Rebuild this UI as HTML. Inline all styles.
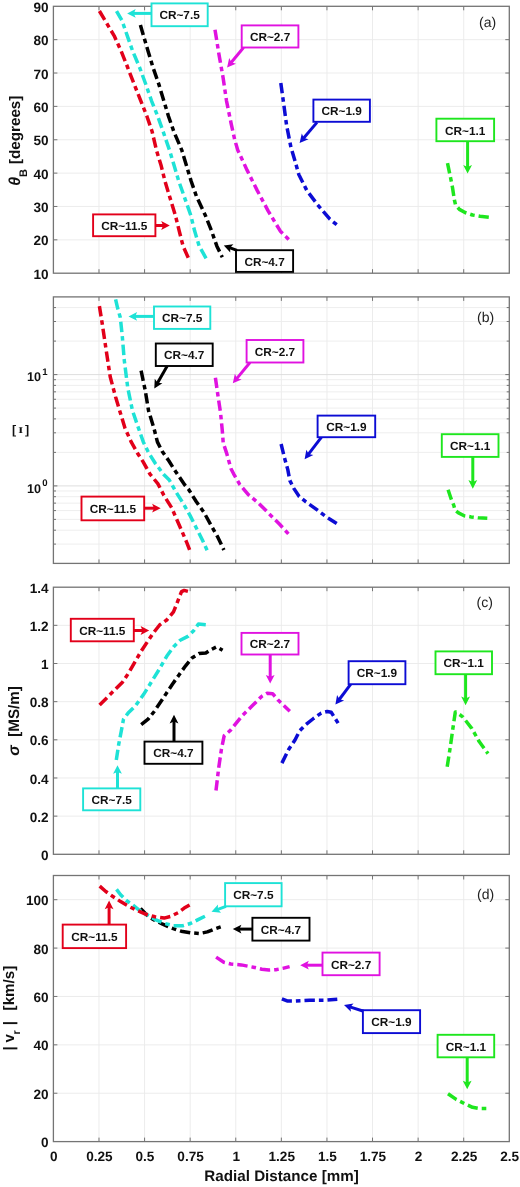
<!DOCTYPE html>
<html><head><meta charset="utf-8"><title>CR plots</title>
<style>html,body{margin:0;padding:0;background:#fff;}svg{display:block;}</style>
</head><body>
<svg width="520" height="1187" viewBox="0 0 520 1187" text-rendering="geometricPrecision"><line x1="98.99" y1="6.30" x2="98.99" y2="273.20" stroke="#eaeaea" stroke-width="0.9"/>
<line x1="144.58" y1="6.30" x2="144.58" y2="273.20" stroke="#eaeaea" stroke-width="0.9"/>
<line x1="190.17" y1="6.30" x2="190.17" y2="273.20" stroke="#eaeaea" stroke-width="0.9"/>
<line x1="235.76" y1="6.30" x2="235.76" y2="273.20" stroke="#eaeaea" stroke-width="0.9"/>
<line x1="281.35" y1="6.30" x2="281.35" y2="273.20" stroke="#eaeaea" stroke-width="0.9"/>
<line x1="326.94" y1="6.30" x2="326.94" y2="273.20" stroke="#eaeaea" stroke-width="0.9"/>
<line x1="372.53" y1="6.30" x2="372.53" y2="273.20" stroke="#eaeaea" stroke-width="0.9"/>
<line x1="418.12" y1="6.30" x2="418.12" y2="273.20" stroke="#eaeaea" stroke-width="0.9"/>
<line x1="463.71" y1="6.30" x2="463.71" y2="273.20" stroke="#eaeaea" stroke-width="0.9"/>
<line x1="53.40" y1="239.84" x2="509.30" y2="239.84" stroke="#eaeaea" stroke-width="0.9"/>
<line x1="53.40" y1="206.47" x2="509.30" y2="206.47" stroke="#eaeaea" stroke-width="0.9"/>
<line x1="53.40" y1="173.11" x2="509.30" y2="173.11" stroke="#eaeaea" stroke-width="0.9"/>
<line x1="53.40" y1="139.75" x2="509.30" y2="139.75" stroke="#eaeaea" stroke-width="0.9"/>
<line x1="53.40" y1="106.39" x2="509.30" y2="106.39" stroke="#eaeaea" stroke-width="0.9"/>
<line x1="53.40" y1="73.03" x2="509.30" y2="73.03" stroke="#eaeaea" stroke-width="0.9"/>
<line x1="53.40" y1="39.66" x2="509.30" y2="39.66" stroke="#eaeaea" stroke-width="0.9"/>
<line x1="98.99" y1="296.90" x2="98.99" y2="563.40" stroke="#eaeaea" stroke-width="0.9"/>
<line x1="144.58" y1="296.90" x2="144.58" y2="563.40" stroke="#eaeaea" stroke-width="0.9"/>
<line x1="190.17" y1="296.90" x2="190.17" y2="563.40" stroke="#eaeaea" stroke-width="0.9"/>
<line x1="235.76" y1="296.90" x2="235.76" y2="563.40" stroke="#eaeaea" stroke-width="0.9"/>
<line x1="281.35" y1="296.90" x2="281.35" y2="563.40" stroke="#eaeaea" stroke-width="0.9"/>
<line x1="326.94" y1="296.90" x2="326.94" y2="563.40" stroke="#eaeaea" stroke-width="0.9"/>
<line x1="372.53" y1="296.90" x2="372.53" y2="563.40" stroke="#eaeaea" stroke-width="0.9"/>
<line x1="418.12" y1="296.90" x2="418.12" y2="563.40" stroke="#eaeaea" stroke-width="0.9"/>
<line x1="463.71" y1="296.90" x2="463.71" y2="563.40" stroke="#eaeaea" stroke-width="0.9"/>
<line x1="53.40" y1="544.10" x2="509.30" y2="544.10" stroke="#ececec" stroke-width="0.9"/>
<line x1="53.40" y1="530.19" x2="509.30" y2="530.19" stroke="#ececec" stroke-width="0.9"/>
<line x1="53.40" y1="519.40" x2="509.30" y2="519.40" stroke="#ececec" stroke-width="0.9"/>
<line x1="53.40" y1="510.59" x2="509.30" y2="510.59" stroke="#ececec" stroke-width="0.9"/>
<line x1="53.40" y1="503.14" x2="509.30" y2="503.14" stroke="#ececec" stroke-width="0.9"/>
<line x1="53.40" y1="496.69" x2="509.30" y2="496.69" stroke="#ececec" stroke-width="0.9"/>
<line x1="53.40" y1="490.99" x2="509.30" y2="490.99" stroke="#ececec" stroke-width="0.9"/>
<line x1="53.40" y1="485.90" x2="509.30" y2="485.90" stroke="#dadada" stroke-width="0.9"/>
<line x1="53.40" y1="452.40" x2="509.30" y2="452.40" stroke="#ececec" stroke-width="0.9"/>
<line x1="53.40" y1="432.80" x2="509.30" y2="432.80" stroke="#ececec" stroke-width="0.9"/>
<line x1="53.40" y1="418.89" x2="509.30" y2="418.89" stroke="#ececec" stroke-width="0.9"/>
<line x1="53.40" y1="408.10" x2="509.30" y2="408.10" stroke="#ececec" stroke-width="0.9"/>
<line x1="53.40" y1="399.29" x2="509.30" y2="399.29" stroke="#ececec" stroke-width="0.9"/>
<line x1="53.40" y1="391.84" x2="509.30" y2="391.84" stroke="#ececec" stroke-width="0.9"/>
<line x1="53.40" y1="385.39" x2="509.30" y2="385.39" stroke="#ececec" stroke-width="0.9"/>
<line x1="53.40" y1="379.69" x2="509.30" y2="379.69" stroke="#ececec" stroke-width="0.9"/>
<line x1="53.40" y1="374.60" x2="509.30" y2="374.60" stroke="#dadada" stroke-width="0.9"/>
<line x1="53.40" y1="341.10" x2="509.30" y2="341.10" stroke="#ececec" stroke-width="0.9"/>
<line x1="53.40" y1="321.50" x2="509.30" y2="321.50" stroke="#ececec" stroke-width="0.9"/>
<line x1="53.40" y1="307.59" x2="509.30" y2="307.59" stroke="#ececec" stroke-width="0.9"/>
<line x1="98.99" y1="587.20" x2="98.99" y2="854.30" stroke="#eaeaea" stroke-width="0.9"/>
<line x1="144.58" y1="587.20" x2="144.58" y2="854.30" stroke="#eaeaea" stroke-width="0.9"/>
<line x1="190.17" y1="587.20" x2="190.17" y2="854.30" stroke="#eaeaea" stroke-width="0.9"/>
<line x1="235.76" y1="587.20" x2="235.76" y2="854.30" stroke="#eaeaea" stroke-width="0.9"/>
<line x1="281.35" y1="587.20" x2="281.35" y2="854.30" stroke="#eaeaea" stroke-width="0.9"/>
<line x1="326.94" y1="587.20" x2="326.94" y2="854.30" stroke="#eaeaea" stroke-width="0.9"/>
<line x1="372.53" y1="587.20" x2="372.53" y2="854.30" stroke="#eaeaea" stroke-width="0.9"/>
<line x1="418.12" y1="587.20" x2="418.12" y2="854.30" stroke="#eaeaea" stroke-width="0.9"/>
<line x1="463.71" y1="587.20" x2="463.71" y2="854.30" stroke="#eaeaea" stroke-width="0.9"/>
<line x1="53.40" y1="816.14" x2="509.30" y2="816.14" stroke="#eaeaea" stroke-width="0.9"/>
<line x1="53.40" y1="777.98" x2="509.30" y2="777.98" stroke="#eaeaea" stroke-width="0.9"/>
<line x1="53.40" y1="739.82" x2="509.30" y2="739.82" stroke="#eaeaea" stroke-width="0.9"/>
<line x1="53.40" y1="701.66" x2="509.30" y2="701.66" stroke="#eaeaea" stroke-width="0.9"/>
<line x1="53.40" y1="663.50" x2="509.30" y2="663.50" stroke="#eaeaea" stroke-width="0.9"/>
<line x1="53.40" y1="625.34" x2="509.30" y2="625.34" stroke="#eaeaea" stroke-width="0.9"/>
<line x1="98.99" y1="875.50" x2="98.99" y2="1141.60" stroke="#eaeaea" stroke-width="0.9"/>
<line x1="144.58" y1="875.50" x2="144.58" y2="1141.60" stroke="#eaeaea" stroke-width="0.9"/>
<line x1="190.17" y1="875.50" x2="190.17" y2="1141.60" stroke="#eaeaea" stroke-width="0.9"/>
<line x1="235.76" y1="875.50" x2="235.76" y2="1141.60" stroke="#eaeaea" stroke-width="0.9"/>
<line x1="281.35" y1="875.50" x2="281.35" y2="1141.60" stroke="#eaeaea" stroke-width="0.9"/>
<line x1="326.94" y1="875.50" x2="326.94" y2="1141.60" stroke="#eaeaea" stroke-width="0.9"/>
<line x1="372.53" y1="875.50" x2="372.53" y2="1141.60" stroke="#eaeaea" stroke-width="0.9"/>
<line x1="418.12" y1="875.50" x2="418.12" y2="1141.60" stroke="#eaeaea" stroke-width="0.9"/>
<line x1="463.71" y1="875.50" x2="463.71" y2="1141.60" stroke="#eaeaea" stroke-width="0.9"/>
<line x1="53.40" y1="1093.22" x2="509.30" y2="1093.22" stroke="#eaeaea" stroke-width="0.9"/>
<line x1="53.40" y1="1044.84" x2="509.30" y2="1044.84" stroke="#eaeaea" stroke-width="0.9"/>
<line x1="53.40" y1="996.46" x2="509.30" y2="996.46" stroke="#eaeaea" stroke-width="0.9"/>
<line x1="53.40" y1="948.08" x2="509.30" y2="948.08" stroke="#eaeaea" stroke-width="0.9"/>
<line x1="53.40" y1="899.70" x2="509.30" y2="899.70" stroke="#eaeaea" stroke-width="0.9"/>
<polyline points="447.5,163.1 450.0,175.0 452.5,187.5 454.4,200.0 455.6,205.0 459.4,209.4 465.0,212.5 472.5,215.0 480.0,216.3 488.8,217.3" fill="none" stroke="#1ee61e" stroke-width="3.5" stroke-dasharray="10.4 4 4.6 4" stroke-linejoin="round"/>
<polyline points="280.8,82.9 283.7,103.8 286.6,125.5 290.9,147.1 295.2,161.5 298.8,174.5 306.8,190.4 317.6,204.8 329.9,219.2 337.1,225.0" fill="none" stroke="#0c0cd4" stroke-width="3.5" stroke-dasharray="10.4 4 4.6 4" stroke-linejoin="round"/>
<polyline points="215.0,29.8 219.0,54.6 223.1,77.7 226.5,100.8 231.2,123.8 234.8,140.0 237.8,150.2 247.2,170.4 257.3,190.6 268.1,210.8 280.2,230.9 289.6,240.4" fill="none" stroke="#e012e0" stroke-width="3.5" stroke-dasharray="10.4 4 4.6 4" stroke-linejoin="round"/>
<polyline points="140.4,25.0 143.5,35.8 148.1,51.2 152.7,66.5 159.2,85.4 163.8,100.8 168.5,116.2 173.8,131.5 181.9,150.4 186.5,165.8 191.2,181.2 196.5,196.5 205.4,215.4 211.5,230.8 216.9,246.2 222.3,257.2" fill="none" stroke="#000000" stroke-width="3.5" stroke-dasharray="10.4 4 4.6 4" stroke-linejoin="round"/>
<polyline points="116.5,11.2 121.9,20.4 127.3,35.8 132.7,51.2 139.8,68.0 146.2,85.4 151.5,100.8 157.7,116.2 163.1,131.5 169.6,150.4 174.2,165.8 178.8,181.2 184.2,196.5 190.8,215.4 194.6,230.8 199.2,246.2 206.2,258.5" fill="none" stroke="#1ee2d6" stroke-width="3.5" stroke-dasharray="10.4 4 4.6 4" stroke-linejoin="round"/>
<polyline points="99.4,11.0 105.0,20.4 114.2,35.8 121.2,51.2 127.5,67.0 134.6,85.4 140.8,100.8 146.9,116.2 152.1,131.5 156.5,150.4 161.2,165.8 165.0,181.2 169.6,196.5 175.4,215.4 179.2,230.8 183.1,246.2 188.9,259.2" fill="none" stroke="#e2001a" stroke-width="3.5" stroke-dasharray="10.4 4 4.6 4" stroke-linejoin="round"/>
<polyline points="448.1,489.8 451.0,498.5 453.8,505.4 455.0,510.0 458.5,512.9 464.2,515.8 471.2,516.9 478.1,517.8 487.3,518.3" fill="none" stroke="#1ee61e" stroke-width="3.5" stroke-dasharray="10.4 4 4.6 4" stroke-linejoin="round"/>
<polyline points="281.1,444.0 284.4,457.5 287.8,469.6 289.8,480.4 293.8,488.4 299.2,496.5 306.0,501.9 315.4,508.6 326.1,516.7 337.6,524.1" fill="none" stroke="#0c0cd4" stroke-width="3.5" stroke-dasharray="10.4 4 4.6 4" stroke-linejoin="round"/>
<polyline points="215.4,377.8 218.0,396.0 220.6,413.3 222.3,430.6 223.2,442.7 226.6,453.1 231.0,468.7 233.6,473.8 239.6,484.2 248.3,494.6 258.7,503.3 269.0,513.6 279.4,524.0 288.9,534.4" fill="none" stroke="#e012e0" stroke-width="3.5" stroke-dasharray="10.4 4 4.6 4" stroke-linejoin="round"/>
<polyline points="141.1,370.7 145.2,390.2 148.5,410.4 154.0,428.5 157.4,441.9 162.1,451.3 168.8,460.8 175.6,471.5 184.8,485.0 188.5,489.2 196.2,501.5 203.9,512.3 211.6,526.2 217.7,536.9 223.9,550.0" fill="none" stroke="#000000" stroke-width="3.5" stroke-dasharray="10.4 4 4.6 4" stroke-linejoin="round"/>
<polyline points="115.6,299.4 117.6,308.1 120.3,317.5 122.3,336.4 124.3,360.6 127.7,387.5 132.4,410.4 138.6,428.5 143.3,441.9 148.6,452.7 155.4,463.5 163.5,474.2 169.3,480.0 176.2,492.3 183.9,504.6 190.0,515.4 196.2,527.7 202.4,540.0 207.7,551.5" fill="none" stroke="#1ee2d6" stroke-width="3.5" stroke-dasharray="10.4 4 4.6 4" stroke-linejoin="round"/>
<polyline points="99.4,306.1 102.1,322.9 106.1,349.8 110.2,376.8 115.6,397.0 119.6,410.4 125.1,428.5 131.2,441.9 137.2,452.7 143.3,462.1 150.0,474.2 157.8,483.6 163.9,495.4 171.6,507.7 177.0,520.0 182.4,532.3 187.0,543.1 190.4,552.0" fill="none" stroke="#e2001a" stroke-width="3.5" stroke-dasharray="10.4 4 4.6 4" stroke-linejoin="round"/>
<polyline points="447.2,766.7 450.4,746.2 452.9,728.3 455.3,711.9 457.8,713.2 462.7,716.8 471.7,728.3 479.0,741.3 488.0,753.6" fill="none" stroke="#1ee61e" stroke-width="3.5" stroke-dasharray="10.4 4 4.6 4" stroke-linejoin="round"/>
<polyline points="281.9,763.1 288.8,749.2 295.0,740.0 299.6,730.8 305.8,724.6 313.5,718.5 321.2,713.1 327.3,711.5 331.2,712.3 334.2,716.9 338.1,723.1" fill="none" stroke="#0c0cd4" stroke-width="3.5" stroke-dasharray="10.4 4 4.6 4" stroke-linejoin="round"/>
<polyline points="216.0,790.5 218.7,767.7 221.4,749.4 224.2,735.7 230.6,730.2 241.5,716.5 252.5,705.6 261.6,696.4 267.1,693.2 272.6,693.7 278.1,700.1 289.8,711.3" fill="none" stroke="#e012e0" stroke-width="3.5" stroke-dasharray="10.4 4 4.6 4" stroke-linejoin="round"/>
<polyline points="141.2,724.6 148.1,719.2 154.2,711.5 160.4,702.3 166.5,693.1 172.4,684.2 178.8,675.2 185.6,665.8 192.3,657.7 199.0,653.6 205.8,653.0 211.1,649.6 216.5,646.9 222.6,650.3" fill="none" stroke="#000000" stroke-width="3.5" stroke-dasharray="10.4 4 4.6 4" stroke-linejoin="round"/>
<polyline points="116.3,760.0 118.8,743.8 121.2,731.5 123.5,719.2 128.1,713.1 135.8,705.4 143.5,694.6 151.2,682.3 158.8,670.0 166.7,656.3 173.5,646.9 180.2,640.2 188.3,636.1 193.6,630.8 198.4,624.0 205.8,624.7" fill="none" stroke="#1ee2d6" stroke-width="3.5" stroke-dasharray="10.4 4 4.6 4" stroke-linejoin="round"/>
<polyline points="99.6,705.0 107.3,697.3 115.0,689.6 122.7,681.9 128.8,672.7 135.0,661.9 141.2,651.2 147.3,641.9 153.5,632.7 159.6,625.0 166.7,620.0 173.5,611.9 176.2,605.2 178.8,598.5 181.5,591.7 184.2,590.4 188.9,591.7" fill="none" stroke="#e2001a" stroke-width="3.5" stroke-dasharray="10.4 4 4.6 4" stroke-linejoin="round"/>
<polyline points="448.0,1093.7 456.2,1099.4 464.3,1103.5 472.5,1107.3 479.0,1108.4 487.2,1108.4" fill="none" stroke="#1ee61e" stroke-width="3.5" stroke-dasharray="10.4 4 4.6 4" stroke-linejoin="round"/>
<polyline points="281.9,998.8 287.1,1000.9 295.8,1000.9 309.6,1000.2 323.5,1000.2 337.3,999.2" fill="none" stroke="#0c0cd4" stroke-width="3.5" stroke-dasharray="10.4 4 4.6 4" stroke-linejoin="round"/>
<polyline points="216.1,957.1 223.8,962.3 230.8,964.0 241.2,964.9 253.3,967.2 261.9,969.2 268.8,970.1 275.8,969.7 282.7,968.4 289.6,966.6" fill="none" stroke="#e012e0" stroke-width="3.5" stroke-dasharray="10.4 4 4.6 4" stroke-linejoin="round"/>
<polyline points="140.5,908.6 148.8,917.0 155.0,920.4 162.7,924.2 171.9,928.1 181.2,931.2 190.4,932.7 199.6,933.5 207.3,931.9 215.0,928.8 221.9,926.5" fill="none" stroke="#000000" stroke-width="3.5" stroke-dasharray="10.4 4 4.6 4" stroke-linejoin="round"/>
<polyline points="116.5,889.4 120.6,894.8 126.0,900.2 132.7,904.9 139.4,910.3 147.5,915.0 155.3,919.6 164.2,923.3 173.5,925.8 182.7,925.8 190.4,923.5 198.1,919.6 205.8,915.8" fill="none" stroke="#1ee2d6" stroke-width="3.5" stroke-dasharray="10.4 4 4.6 4" stroke-linejoin="round"/>
<polyline points="99.7,886.1 105.8,891.5 112.5,896.2 120.6,901.6 128.6,906.3 136.7,910.3 146.1,914.3 155.0,916.8 164.2,918.1 170.4,916.5 178.1,912.7 184.2,908.1 189.6,905.0" fill="none" stroke="#e2001a" stroke-width="3.5" stroke-dasharray="10.4 4 4.6 4" stroke-linejoin="round"/>
<g stroke="#747474" stroke-width="1.0" fill="none"><line x1="98.99" y1="273.20" x2="98.99" y2="269.20"/><line x1="98.99" y1="6.30" x2="98.99" y2="10.30"/><line x1="144.58" y1="273.20" x2="144.58" y2="269.20"/><line x1="144.58" y1="6.30" x2="144.58" y2="10.30"/><line x1="190.17" y1="273.20" x2="190.17" y2="269.20"/><line x1="190.17" y1="6.30" x2="190.17" y2="10.30"/><line x1="235.76" y1="273.20" x2="235.76" y2="269.20"/><line x1="235.76" y1="6.30" x2="235.76" y2="10.30"/><line x1="281.35" y1="273.20" x2="281.35" y2="269.20"/><line x1="281.35" y1="6.30" x2="281.35" y2="10.30"/><line x1="326.94" y1="273.20" x2="326.94" y2="269.20"/><line x1="326.94" y1="6.30" x2="326.94" y2="10.30"/><line x1="372.53" y1="273.20" x2="372.53" y2="269.20"/><line x1="372.53" y1="6.30" x2="372.53" y2="10.30"/><line x1="418.12" y1="273.20" x2="418.12" y2="269.20"/><line x1="418.12" y1="6.30" x2="418.12" y2="10.30"/><line x1="463.71" y1="273.20" x2="463.71" y2="269.20"/><line x1="463.71" y1="6.30" x2="463.71" y2="10.30"/><line x1="53.40" y1="239.84" x2="57.40" y2="239.84"/><line x1="509.30" y1="239.84" x2="505.30" y2="239.84"/><line x1="53.40" y1="206.47" x2="57.40" y2="206.47"/><line x1="509.30" y1="206.47" x2="505.30" y2="206.47"/><line x1="53.40" y1="173.11" x2="57.40" y2="173.11"/><line x1="509.30" y1="173.11" x2="505.30" y2="173.11"/><line x1="53.40" y1="139.75" x2="57.40" y2="139.75"/><line x1="509.30" y1="139.75" x2="505.30" y2="139.75"/><line x1="53.40" y1="106.39" x2="57.40" y2="106.39"/><line x1="509.30" y1="106.39" x2="505.30" y2="106.39"/><line x1="53.40" y1="73.03" x2="57.40" y2="73.03"/><line x1="509.30" y1="73.03" x2="505.30" y2="73.03"/><line x1="53.40" y1="39.66" x2="57.40" y2="39.66"/><line x1="509.30" y1="39.66" x2="505.30" y2="39.66"/></g>
<rect x="53.40" y="6.30" width="455.90" height="266.90" fill="none" stroke="#747474" stroke-width="1.3"/>
<g stroke="#747474" stroke-width="1.0" fill="none"><line x1="98.99" y1="563.40" x2="98.99" y2="559.40"/><line x1="98.99" y1="296.90" x2="98.99" y2="300.90"/><line x1="144.58" y1="563.40" x2="144.58" y2="559.40"/><line x1="144.58" y1="296.90" x2="144.58" y2="300.90"/><line x1="190.17" y1="563.40" x2="190.17" y2="559.40"/><line x1="190.17" y1="296.90" x2="190.17" y2="300.90"/><line x1="235.76" y1="563.40" x2="235.76" y2="559.40"/><line x1="235.76" y1="296.90" x2="235.76" y2="300.90"/><line x1="281.35" y1="563.40" x2="281.35" y2="559.40"/><line x1="281.35" y1="296.90" x2="281.35" y2="300.90"/><line x1="326.94" y1="563.40" x2="326.94" y2="559.40"/><line x1="326.94" y1="296.90" x2="326.94" y2="300.90"/><line x1="372.53" y1="563.40" x2="372.53" y2="559.40"/><line x1="372.53" y1="296.90" x2="372.53" y2="300.90"/><line x1="418.12" y1="563.40" x2="418.12" y2="559.40"/><line x1="418.12" y1="296.90" x2="418.12" y2="300.90"/><line x1="463.71" y1="563.40" x2="463.71" y2="559.40"/><line x1="463.71" y1="296.90" x2="463.71" y2="300.90"/><line x1="53.40" y1="544.10" x2="56.00" y2="544.10"/><line x1="509.30" y1="544.10" x2="506.70" y2="544.10"/><line x1="53.40" y1="530.19" x2="56.00" y2="530.19"/><line x1="509.30" y1="530.19" x2="506.70" y2="530.19"/><line x1="53.40" y1="519.40" x2="56.00" y2="519.40"/><line x1="509.30" y1="519.40" x2="506.70" y2="519.40"/><line x1="53.40" y1="510.59" x2="56.00" y2="510.59"/><line x1="509.30" y1="510.59" x2="506.70" y2="510.59"/><line x1="53.40" y1="503.14" x2="56.00" y2="503.14"/><line x1="509.30" y1="503.14" x2="506.70" y2="503.14"/><line x1="53.40" y1="496.69" x2="56.00" y2="496.69"/><line x1="509.30" y1="496.69" x2="506.70" y2="496.69"/><line x1="53.40" y1="490.99" x2="56.00" y2="490.99"/><line x1="509.30" y1="490.99" x2="506.70" y2="490.99"/><line x1="53.40" y1="485.90" x2="57.40" y2="485.90"/><line x1="509.30" y1="485.90" x2="505.30" y2="485.90"/><line x1="53.40" y1="452.40" x2="56.00" y2="452.40"/><line x1="509.30" y1="452.40" x2="506.70" y2="452.40"/><line x1="53.40" y1="432.80" x2="56.00" y2="432.80"/><line x1="509.30" y1="432.80" x2="506.70" y2="432.80"/><line x1="53.40" y1="418.89" x2="56.00" y2="418.89"/><line x1="509.30" y1="418.89" x2="506.70" y2="418.89"/><line x1="53.40" y1="408.10" x2="56.00" y2="408.10"/><line x1="509.30" y1="408.10" x2="506.70" y2="408.10"/><line x1="53.40" y1="399.29" x2="56.00" y2="399.29"/><line x1="509.30" y1="399.29" x2="506.70" y2="399.29"/><line x1="53.40" y1="391.84" x2="56.00" y2="391.84"/><line x1="509.30" y1="391.84" x2="506.70" y2="391.84"/><line x1="53.40" y1="385.39" x2="56.00" y2="385.39"/><line x1="509.30" y1="385.39" x2="506.70" y2="385.39"/><line x1="53.40" y1="379.69" x2="56.00" y2="379.69"/><line x1="509.30" y1="379.69" x2="506.70" y2="379.69"/><line x1="53.40" y1="374.60" x2="57.40" y2="374.60"/><line x1="509.30" y1="374.60" x2="505.30" y2="374.60"/><line x1="53.40" y1="341.10" x2="56.00" y2="341.10"/><line x1="509.30" y1="341.10" x2="506.70" y2="341.10"/><line x1="53.40" y1="321.50" x2="56.00" y2="321.50"/><line x1="509.30" y1="321.50" x2="506.70" y2="321.50"/><line x1="53.40" y1="307.59" x2="56.00" y2="307.59"/><line x1="509.30" y1="307.59" x2="506.70" y2="307.59"/></g>
<rect x="53.40" y="296.90" width="455.90" height="266.50" fill="none" stroke="#747474" stroke-width="1.3"/>
<g stroke="#747474" stroke-width="1.0" fill="none"><line x1="98.99" y1="854.30" x2="98.99" y2="850.30"/><line x1="98.99" y1="587.20" x2="98.99" y2="591.20"/><line x1="144.58" y1="854.30" x2="144.58" y2="850.30"/><line x1="144.58" y1="587.20" x2="144.58" y2="591.20"/><line x1="190.17" y1="854.30" x2="190.17" y2="850.30"/><line x1="190.17" y1="587.20" x2="190.17" y2="591.20"/><line x1="235.76" y1="854.30" x2="235.76" y2="850.30"/><line x1="235.76" y1="587.20" x2="235.76" y2="591.20"/><line x1="281.35" y1="854.30" x2="281.35" y2="850.30"/><line x1="281.35" y1="587.20" x2="281.35" y2="591.20"/><line x1="326.94" y1="854.30" x2="326.94" y2="850.30"/><line x1="326.94" y1="587.20" x2="326.94" y2="591.20"/><line x1="372.53" y1="854.30" x2="372.53" y2="850.30"/><line x1="372.53" y1="587.20" x2="372.53" y2="591.20"/><line x1="418.12" y1="854.30" x2="418.12" y2="850.30"/><line x1="418.12" y1="587.20" x2="418.12" y2="591.20"/><line x1="463.71" y1="854.30" x2="463.71" y2="850.30"/><line x1="463.71" y1="587.20" x2="463.71" y2="591.20"/><line x1="53.40" y1="816.14" x2="57.40" y2="816.14"/><line x1="509.30" y1="816.14" x2="505.30" y2="816.14"/><line x1="53.40" y1="777.98" x2="57.40" y2="777.98"/><line x1="509.30" y1="777.98" x2="505.30" y2="777.98"/><line x1="53.40" y1="739.82" x2="57.40" y2="739.82"/><line x1="509.30" y1="739.82" x2="505.30" y2="739.82"/><line x1="53.40" y1="701.66" x2="57.40" y2="701.66"/><line x1="509.30" y1="701.66" x2="505.30" y2="701.66"/><line x1="53.40" y1="663.50" x2="57.40" y2="663.50"/><line x1="509.30" y1="663.50" x2="505.30" y2="663.50"/><line x1="53.40" y1="625.34" x2="57.40" y2="625.34"/><line x1="509.30" y1="625.34" x2="505.30" y2="625.34"/></g>
<rect x="53.40" y="587.20" width="455.90" height="267.10" fill="none" stroke="#747474" stroke-width="1.3"/>
<g stroke="#747474" stroke-width="1.0" fill="none"><line x1="98.99" y1="1141.60" x2="98.99" y2="1137.60"/><line x1="98.99" y1="875.50" x2="98.99" y2="879.50"/><line x1="144.58" y1="1141.60" x2="144.58" y2="1137.60"/><line x1="144.58" y1="875.50" x2="144.58" y2="879.50"/><line x1="190.17" y1="1141.60" x2="190.17" y2="1137.60"/><line x1="190.17" y1="875.50" x2="190.17" y2="879.50"/><line x1="235.76" y1="1141.60" x2="235.76" y2="1137.60"/><line x1="235.76" y1="875.50" x2="235.76" y2="879.50"/><line x1="281.35" y1="1141.60" x2="281.35" y2="1137.60"/><line x1="281.35" y1="875.50" x2="281.35" y2="879.50"/><line x1="326.94" y1="1141.60" x2="326.94" y2="1137.60"/><line x1="326.94" y1="875.50" x2="326.94" y2="879.50"/><line x1="372.53" y1="1141.60" x2="372.53" y2="1137.60"/><line x1="372.53" y1="875.50" x2="372.53" y2="879.50"/><line x1="418.12" y1="1141.60" x2="418.12" y2="1137.60"/><line x1="418.12" y1="875.50" x2="418.12" y2="879.50"/><line x1="463.71" y1="1141.60" x2="463.71" y2="1137.60"/><line x1="463.71" y1="875.50" x2="463.71" y2="879.50"/><line x1="53.40" y1="1093.22" x2="57.40" y2="1093.22"/><line x1="509.30" y1="1093.22" x2="505.30" y2="1093.22"/><line x1="53.40" y1="1044.84" x2="57.40" y2="1044.84"/><line x1="509.30" y1="1044.84" x2="505.30" y2="1044.84"/><line x1="53.40" y1="996.46" x2="57.40" y2="996.46"/><line x1="509.30" y1="996.46" x2="505.30" y2="996.46"/><line x1="53.40" y1="948.08" x2="57.40" y2="948.08"/><line x1="509.30" y1="948.08" x2="505.30" y2="948.08"/><line x1="53.40" y1="899.70" x2="57.40" y2="899.70"/><line x1="509.30" y1="899.70" x2="505.30" y2="899.70"/></g>
<rect x="53.40" y="875.50" width="455.90" height="266.10" fill="none" stroke="#747474" stroke-width="1.3"/>
<g font-family="'Liberation Sans', Arial, sans-serif" font-weight="bold" font-size="13.6" text-anchor="end" fill="#111"><text x="48.6" y="278.80">10</text><text x="48.6" y="245.44">20</text><text x="48.6" y="212.07">30</text><text x="48.6" y="178.71">40</text><text x="48.6" y="145.35">50</text><text x="48.6" y="111.99">60</text><text x="48.6" y="78.62">70</text><text x="48.6" y="45.26">80</text><text x="48.6" y="11.90">90</text><text x="48.6" y="859.90">0</text><text x="48.6" y="821.74">0.2</text><text x="48.6" y="783.58">0.4</text><text x="48.6" y="745.42">0.6</text><text x="48.6" y="707.26">0.8</text><text x="48.6" y="669.10">1</text><text x="48.6" y="630.94">1.2</text><text x="48.6" y="592.78">1.4</text><text x="48.6" y="1147.20">0</text><text x="48.6" y="1098.82">20</text><text x="48.6" y="1050.44">40</text><text x="48.6" y="1002.06">60</text><text x="48.6" y="953.68">80</text><text x="48.6" y="905.30">100</text></g>
<g font-family="'Liberation Sans', Arial, sans-serif" font-weight="bold" font-size="12.6" fill="#111"><text x="40.9" y="492.70" text-anchor="end">10</text><text x="42.3" y="486.40" font-size="9.6">0</text><text x="40.9" y="381.40" text-anchor="end">10</text><text x="42.3" y="375.10" font-size="9.6">1</text></g>
<g font-family="'Liberation Sans', Arial, sans-serif" font-weight="bold" font-size="13.6" text-anchor="middle" fill="#111"><text x="53.80" y="1160.8">0</text><text x="99.39" y="1160.8">0.25</text><text x="144.98" y="1160.8">0.5</text><text x="190.57" y="1160.8">0.75</text><text x="236.16" y="1160.8">1</text><text x="281.75" y="1160.8">1.25</text><text x="327.34" y="1160.8">1.5</text><text x="372.93" y="1160.8">1.75</text><text x="418.52" y="1160.8">2</text><text x="464.11" y="1160.8">2.25</text><text x="509.70" y="1160.8">2.5</text></g>
<line x1="151.50" y1="13.40" x2="133.21" y2="13.40" stroke="#1ee2d6" stroke-width="3.0"/><polygon points="127.10,13.40 135.70,9.00 133.81,13.40 135.70,17.80" fill="#1ee2d6"/>
<line x1="243.60" y1="47.50" x2="230.99" y2="62.79" stroke="#e012e0" stroke-width="3.0"/><polygon points="227.10,67.50 229.18,58.07 231.37,62.33 235.97,63.67" fill="#e012e0"/>
<line x1="317.00" y1="122.40" x2="303.54" y2="138.33" stroke="#0c0cd4" stroke-width="3.0"/><polygon points="299.60,143.00 301.79,133.59 303.93,137.88 308.51,139.27" fill="#0c0cd4"/>
<line x1="467.60" y1="141.20" x2="467.60" y2="167.49" stroke="#1ee61e" stroke-width="3.0"/><polygon points="467.60,173.60 463.20,165.00 467.60,166.89 472.00,165.00" fill="#1ee61e"/>
<line x1="155.40" y1="225.50" x2="163.69" y2="225.50" stroke="#e2001a" stroke-width="3.0"/><polygon points="169.80,225.50 161.20,229.90 163.09,225.50 161.20,221.10" fill="#e2001a"/>
<line x1="237.00" y1="250.40" x2="229.51" y2="247.56" stroke="#000000" stroke-width="3.0"/><polygon points="223.80,245.40 233.40,244.33 230.07,247.78 230.28,252.56" fill="#000000"/>
<line x1="154.00" y1="316.40" x2="134.61" y2="316.40" stroke="#1ee2d6" stroke-width="3.0"/><polygon points="128.50,316.40 137.10,312.00 135.21,316.40 137.10,320.80" fill="#1ee2d6"/>
<line x1="167.20" y1="366.00" x2="157.34" y2="383.20" stroke="#000000" stroke-width="3.0"/><polygon points="154.30,388.50 154.76,378.85 157.64,382.68 162.39,383.23" fill="#000000"/>
<line x1="250.00" y1="362.50" x2="236.69" y2="378.59" stroke="#e012e0" stroke-width="3.0"/><polygon points="232.80,383.30 234.89,373.87 237.07,378.13 241.67,379.48" fill="#e012e0"/>
<line x1="321.50" y1="437.20" x2="308.32" y2="454.36" stroke="#0c0cd4" stroke-width="3.0"/><polygon points="304.60,459.20 306.35,449.70 308.69,453.88 313.33,455.06" fill="#0c0cd4"/>
<line x1="472.80" y1="456.90" x2="472.80" y2="482.59" stroke="#1ee61e" stroke-width="3.0"/><polygon points="472.80,488.70 468.40,480.10 472.80,481.99 477.20,480.10" fill="#1ee61e"/>
<line x1="144.20" y1="508.20" x2="154.59" y2="508.20" stroke="#e2001a" stroke-width="3.0"/><polygon points="160.70,508.20 152.10,512.60 153.99,508.20 152.10,503.80" fill="#e2001a"/>
<line x1="133.80" y1="630.50" x2="143.09" y2="630.50" stroke="#e2001a" stroke-width="3.0"/><polygon points="149.20,630.50 140.60,634.90 142.49,630.50 140.60,626.10" fill="#e2001a"/>
<line x1="270.20" y1="654.50" x2="270.20" y2="677.39" stroke="#e012e0" stroke-width="3.0"/><polygon points="270.20,683.50 265.80,674.90 270.20,676.79 274.60,674.90" fill="#e012e0"/>
<line x1="350.80" y1="684.20" x2="339.08" y2="699.73" stroke="#0c0cd4" stroke-width="3.0"/><polygon points="335.40,704.60 337.07,695.09 339.44,699.25 344.09,700.39" fill="#0c0cd4"/>
<line x1="465.60" y1="674.20" x2="465.60" y2="699.09" stroke="#1ee61e" stroke-width="3.0"/><polygon points="465.60,705.20 461.20,696.60 465.60,698.49 470.00,696.60" fill="#1ee61e"/>
<line x1="174.00" y1="741.60" x2="174.00" y2="720.91" stroke="#000000" stroke-width="3.0"/><polygon points="174.00,714.80 178.40,723.40 174.00,721.51 169.60,723.40" fill="#000000"/>
<line x1="117.50" y1="788.40" x2="117.50" y2="771.31" stroke="#1ee2d6" stroke-width="3.0"/><polygon points="117.50,765.20 121.90,773.80 117.50,771.91 113.10,773.80" fill="#1ee2d6"/>
<line x1="109.10" y1="924.60" x2="109.10" y2="906.71" stroke="#e2001a" stroke-width="3.0"/><polygon points="109.10,900.60 113.50,909.20 109.10,907.31 104.70,909.20" fill="#e2001a"/>
<line x1="226.00" y1="906.30" x2="217.22" y2="909.57" stroke="#1ee2d6" stroke-width="3.0"/><polygon points="211.50,911.70 218.02,904.58 217.79,909.36 221.09,912.82" fill="#1ee2d6"/>
<line x1="252.40" y1="929.10" x2="238.91" y2="929.10" stroke="#000000" stroke-width="3.0"/><polygon points="232.80,929.10 241.40,924.70 239.51,929.10 241.40,933.50" fill="#000000"/>
<line x1="322.50" y1="965.20" x2="306.31" y2="965.20" stroke="#e012e0" stroke-width="3.0"/><polygon points="300.20,965.20 308.80,960.80 306.91,965.20 308.80,969.60" fill="#e012e0"/>
<line x1="363.60" y1="1011.20" x2="349.83" y2="1006.92" stroke="#0c0cd4" stroke-width="3.0"/><polygon points="344.00,1005.10 353.52,1003.45 350.40,1007.09 350.90,1011.86" fill="#0c0cd4"/>
<line x1="467.20" y1="1057.30" x2="467.20" y2="1083.19" stroke="#1ee61e" stroke-width="3.0"/><polygon points="467.20,1089.30 462.80,1080.70 467.20,1082.59 471.60,1080.70" fill="#1ee61e"/>
<rect x="151.50" y="3.40" width="56.20" height="22.80" fill="#fff" stroke="#1ee2d6" stroke-width="1.9"/>
<text x="179.60" y="19.40" text-anchor="middle" font-family="'Liberation Sans', Arial, sans-serif" font-weight="bold" font-size="11.8" fill="#111">CR~7.5</text>
<rect x="241.70" y="25.40" width="56.70" height="22.10" fill="#fff" stroke="#e012e0" stroke-width="1.9"/>
<text x="270.05" y="41.05" text-anchor="middle" font-family="'Liberation Sans', Arial, sans-serif" font-weight="bold" font-size="11.8" fill="#111">CR~2.7</text>
<rect x="313.40" y="99.60" width="56.50" height="22.20" fill="#fff" stroke="#0c0cd4" stroke-width="1.9"/>
<text x="341.65" y="115.30" text-anchor="middle" font-family="'Liberation Sans', Arial, sans-serif" font-weight="bold" font-size="11.8" fill="#111">CR~1.9</text>
<rect x="436.40" y="118.70" width="57.70" height="22.50" fill="#fff" stroke="#1ee61e" stroke-width="1.9"/>
<text x="465.25" y="134.55" text-anchor="middle" font-family="'Liberation Sans', Arial, sans-serif" font-weight="bold" font-size="11.8" fill="#111">CR~1.1</text>
<rect x="93.10" y="214.40" width="62.30" height="21.80" fill="#fff" stroke="#e2001a" stroke-width="1.9"/>
<text x="124.25" y="229.90" text-anchor="middle" font-family="'Liberation Sans', Arial, sans-serif" font-weight="bold" font-size="11.8" fill="#111">CR~11.5</text>
<rect x="236.00" y="250.20" width="57.10" height="21.70" fill="#fff" stroke="#000000" stroke-width="1.9"/>
<text x="264.55" y="265.65" text-anchor="middle" font-family="'Liberation Sans', Arial, sans-serif" font-weight="bold" font-size="11.8" fill="#111">CR~4.7</text>
<rect x="154.00" y="306.50" width="56.30" height="22.40" fill="#fff" stroke="#1ee2d6" stroke-width="1.9"/>
<text x="182.15" y="322.30" text-anchor="middle" font-family="'Liberation Sans', Arial, sans-serif" font-weight="bold" font-size="11.8" fill="#111">CR~7.5</text>
<rect x="155.80" y="343.50" width="56.90" height="22.50" fill="#fff" stroke="#000000" stroke-width="1.9"/>
<text x="184.25" y="359.35" text-anchor="middle" font-family="'Liberation Sans', Arial, sans-serif" font-weight="bold" font-size="11.8" fill="#111">CR~4.7</text>
<rect x="246.60" y="340.00" width="56.80" height="22.50" fill="#fff" stroke="#e012e0" stroke-width="1.9"/>
<text x="275.00" y="355.85" text-anchor="middle" font-family="'Liberation Sans', Arial, sans-serif" font-weight="bold" font-size="11.8" fill="#111">CR~2.7</text>
<rect x="317.60" y="415.60" width="57.60" height="21.60" fill="#fff" stroke="#0c0cd4" stroke-width="1.9"/>
<text x="346.40" y="431.00" text-anchor="middle" font-family="'Liberation Sans', Arial, sans-serif" font-weight="bold" font-size="11.8" fill="#111">CR~1.9</text>
<rect x="441.80" y="434.20" width="56.70" height="22.70" fill="#fff" stroke="#1ee61e" stroke-width="1.9"/>
<text x="470.15" y="450.15" text-anchor="middle" font-family="'Liberation Sans', Arial, sans-serif" font-weight="bold" font-size="11.8" fill="#111">CR~1.1</text>
<rect x="81.50" y="496.60" width="62.70" height="23.70" fill="#fff" stroke="#e2001a" stroke-width="1.9"/>
<text x="112.85" y="513.05" text-anchor="middle" font-family="'Liberation Sans', Arial, sans-serif" font-weight="bold" font-size="11.8" fill="#111">CR~11.5</text>
<rect x="70.80" y="618.80" width="63.00" height="22.50" fill="#fff" stroke="#e2001a" stroke-width="1.9"/>
<text x="102.30" y="634.65" text-anchor="middle" font-family="'Liberation Sans', Arial, sans-serif" font-weight="bold" font-size="11.8" fill="#111">CR~11.5</text>
<rect x="241.50" y="632.90" width="57.00" height="21.60" fill="#fff" stroke="#e012e0" stroke-width="1.9"/>
<text x="270.00" y="648.30" text-anchor="middle" font-family="'Liberation Sans', Arial, sans-serif" font-weight="bold" font-size="11.8" fill="#111">CR~2.7</text>
<rect x="348.60" y="661.20" width="56.80" height="23.00" fill="#fff" stroke="#0c0cd4" stroke-width="1.9"/>
<text x="377.00" y="677.30" text-anchor="middle" font-family="'Liberation Sans', Arial, sans-serif" font-weight="bold" font-size="11.8" fill="#111">CR~1.9</text>
<rect x="435.50" y="651.40" width="56.50" height="22.80" fill="#fff" stroke="#1ee61e" stroke-width="1.9"/>
<text x="463.75" y="667.40" text-anchor="middle" font-family="'Liberation Sans', Arial, sans-serif" font-weight="bold" font-size="11.8" fill="#111">CR~1.1</text>
<rect x="144.50" y="741.60" width="57.90" height="22.20" fill="#fff" stroke="#000000" stroke-width="1.9"/>
<text x="173.45" y="757.30" text-anchor="middle" font-family="'Liberation Sans', Arial, sans-serif" font-weight="bold" font-size="11.8" fill="#111">CR~4.7</text>
<rect x="83.10" y="788.40" width="57.20" height="21.90" fill="#fff" stroke="#1ee2d6" stroke-width="1.9"/>
<text x="111.70" y="803.95" text-anchor="middle" font-family="'Liberation Sans', Arial, sans-serif" font-weight="bold" font-size="11.8" fill="#111">CR~7.5</text>
<rect x="62.70" y="924.60" width="63.40" height="23.50" fill="#fff" stroke="#e2001a" stroke-width="1.9"/>
<text x="94.40" y="940.95" text-anchor="middle" font-family="'Liberation Sans', Arial, sans-serif" font-weight="bold" font-size="11.8" fill="#111">CR~11.5</text>
<rect x="225.10" y="883.10" width="56.50" height="23.20" fill="#fff" stroke="#1ee2d6" stroke-width="1.9"/>
<text x="253.35" y="899.30" text-anchor="middle" font-family="'Liberation Sans', Arial, sans-serif" font-weight="bold" font-size="11.8" fill="#111">CR~7.5</text>
<rect x="252.40" y="917.80" width="57.10" height="22.80" fill="#fff" stroke="#000000" stroke-width="1.9"/>
<text x="280.95" y="933.80" text-anchor="middle" font-family="'Liberation Sans', Arial, sans-serif" font-weight="bold" font-size="11.8" fill="#111">CR~4.7</text>
<rect x="322.50" y="952.60" width="57.10" height="22.60" fill="#fff" stroke="#e012e0" stroke-width="1.9"/>
<text x="351.05" y="968.50" text-anchor="middle" font-family="'Liberation Sans', Arial, sans-serif" font-weight="bold" font-size="11.8" fill="#111">CR~2.7</text>
<rect x="362.90" y="1010.20" width="57.20" height="22.90" fill="#fff" stroke="#0c0cd4" stroke-width="1.9"/>
<text x="391.50" y="1026.25" text-anchor="middle" font-family="'Liberation Sans', Arial, sans-serif" font-weight="bold" font-size="11.8" fill="#111">CR~1.9</text>
<rect x="437.60" y="1034.80" width="56.60" height="22.50" fill="#fff" stroke="#1ee61e" stroke-width="1.9"/>
<text x="465.90" y="1050.65" text-anchor="middle" font-family="'Liberation Sans', Arial, sans-serif" font-weight="bold" font-size="11.8" fill="#111">CR~1.1</text>
<text x="479" y="27.2" font-family="'Liberation Sans', Arial, sans-serif" font-size="14" fill="#222">(a)</text>
<text x="477" y="321.8" font-family="'Liberation Sans', Arial, sans-serif" font-size="14" fill="#222">(b)</text>
<text x="476.5" y="607.4" font-family="'Liberation Sans', Arial, sans-serif" font-size="14" fill="#222">(c)</text>
<text x="477" y="898.8" font-family="'Liberation Sans', Arial, sans-serif" font-size="14" fill="#222">(d)</text>
<text x="281.6" y="1181" text-anchor="middle" font-family="'Liberation Sans', Arial, sans-serif" font-weight="bold" fill="#111" font-size="15.2">Radial Distance [mm]</text>
<text transform="translate(20.00,164.00) rotate(-90)" font-family="'Liberation Sans', Arial, sans-serif" font-weight="bold" fill="#111" font-size="15.2" >[degrees]</text>
<text transform="translate(27.40,177.00) rotate(-90)" font-family="'Liberation Sans', Arial, sans-serif" font-weight="bold" fill="#111" font-size="11" >B</text>
<text transform="translate(19.80,185.80) rotate(-90)" font-family="'Liberation Sans', Arial, sans-serif" font-weight="bold" fill="#111" font-size="16" font-family="'Liberation Serif', 'DejaVu Serif', serif" font-style="italic">θ</text>
<text x="12" y="434" font-family="'Liberation Sans', Arial, sans-serif" font-weight="bold" fill="#111" font-size="12.5">[</text>
<text x="25.0" y="434" font-family="'Liberation Sans', Arial, sans-serif" font-weight="bold" fill="#111" font-size="12.5">]</text>
<text transform="translate(18.3,433.1) scale(1.45,1)" font-family="'Liberation Serif', 'DejaVu Serif', serif" font-weight="bold" font-size="8.8" fill="#111">I</text>
<text transform="translate(19.20,736.80) rotate(-90)" font-family="'Liberation Sans', Arial, sans-serif" font-weight="bold" fill="#111" font-size="15.2" >[MS/m]</text>
<text transform="translate(18.60,755.80) rotate(-90)" font-family="'Liberation Sans', Arial, sans-serif" font-weight="bold" fill="#111" font-size="16" font-family="'Liberation Serif', 'DejaVu Serif', serif" font-style="italic">σ</text>
<text transform="translate(13.60,1010.40) rotate(-90)" font-family="'Liberation Sans', Arial, sans-serif" font-weight="bold" fill="#111" font-size="15.2" >[km/s]</text>
<text transform="translate(13.60,1025.20) rotate(-90)" font-family="'Liberation Sans', Arial, sans-serif" font-weight="bold" fill="#111" font-size="15.2" >|</text>
<text transform="translate(13.60,1042.40) rotate(-90)" font-family="'Liberation Sans', Arial, sans-serif" font-weight="bold" fill="#111" font-size="15.2" >v</text>
<text transform="translate(19.60,1034.40) rotate(-90)" font-family="'Liberation Sans', Arial, sans-serif" font-weight="bold" fill="#111" font-size="11" >r</text>
<text transform="translate(13.60,1050.60) rotate(-90)" font-family="'Liberation Sans', Arial, sans-serif" font-weight="bold" fill="#111" font-size="15.2" >|</text></svg>
</body></html>
